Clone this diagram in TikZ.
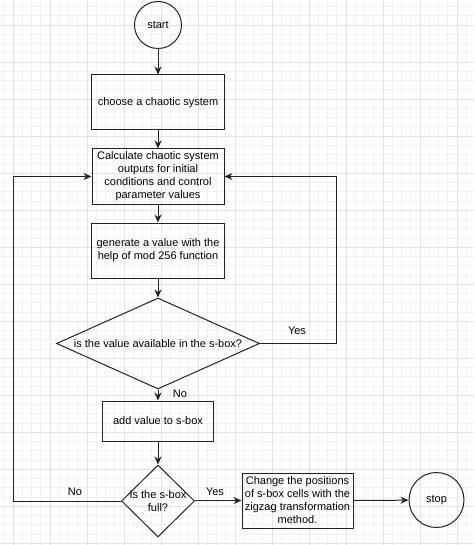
\documentclass[tikz,border=0pt]{standalone}
\usepackage{fontspec}
\setmainfont{Liberation Sans}
\usepackage{xcolor}
\usetikzlibrary{positioning,shapes,calc}
\usetikzlibrary{arrows.meta}
\definecolor{lineGray}{HTML}{222222}
\definecolor{gridMinor}{HTML}{F1F1F1}
\definecolor{gridMajor}{HTML}{E3E3E3}
\tikzstyle{nodeTerm}  =[circle, draw=lineGray, line width=1pt, inner sep=0pt]
\tikzstyle{nodeStep}  =[rectangle, draw=lineGray, line width=1pt, align=center, inner sep=1pt]
\tikzstyle{nodeAsk}   =[diamond, draw=lineGray, line width=1pt, align=center, inner sep=0pt]
\tikzstyle{flow}      =[draw=lineGray, line width=1pt, -{Stealth[length=8pt,width=7pt]}]
\tikzstyle{lbl}       =[inner sep=0pt]

\begin{document}
\begin{tikzpicture}[x=1pt, y=-1pt, font=\fontsize{11}{13}\selectfont]
        \useasboundingbox (0,0) rectangle (474,545);
        % grid
        \foreach \i in {0,...,51} {
            \draw[gridMinor, line width=0.5pt] (3.55+9.25*\i,0) -- (3.55+9.25*\i,545);
        }
        \foreach \i in {0,...,59} {
            \draw[gridMinor, line width=0.5pt] (0,6.5+9.25*\i) -- (474,6.5+9.25*\i);
        }
        \foreach \i in {0,...,12} {
            \draw[gridMajor, line width=0.6pt] (12.8+37*\i,0) -- (12.8+37*\i,545);
        }
        \foreach \i in {0,...,14} {
            \draw[gridMajor, line width=0.6pt] (0,25+37*\i) -- (474,25+37*\i);
        }
        % blocks
        \node[nodeTerm, minimum size=47pt] (start) at (158,25) {start};
        \node[nodeStep, minimum width=133pt, minimum height=55pt] (choose) at (158,102.5) {choose a chaotic system};
        \node[nodeStep, minimum width=132pt, minimum height=55pt] (calc) at (158,176.5)
            {Calculate chaotic system\\outputs for initial\\conditions and control\\parameter values};
        \node[nodeStep, minimum width=133pt, minimum height=55pt] (gen) at (158,250.5)
            {generate a value with the\\help of mod 256 function};
        \node[nodeAsk, aspect=2.23, minimum width=203pt, minimum height=91pt] (avail) at (158,343.5)
            {is the value available in the s-box?};
        \node[nodeStep, minimum width=111pt, minimum height=40pt] (add) at (158,421) {add value to s-box};
        \node[nodeAsk, aspect=1, minimum width=73pt, minimum height=72pt, inner sep=-6pt] (full) at (158,501)
            {Is the s-box\\full?};
        \node[nodeStep, minimum width=111pt, minimum height=55pt] (zigzag) at (297.5,500.5)
            {Change the positions\\of s-box cells with the\\zigzag transformation\\method.};
        \node[nodeTerm, minimum size=55pt] (stop) at (436.5,500) {stop};
        % connectors
        \draw[flow] (start) -- (choose);
        \draw[flow] (choose) -- (calc);
        \draw[flow] (calc) -- (gen);
        \draw[flow] (gen) -- (avail);
        \draw[flow] (avail) -- (add);
        \draw[flow] (add) -- (full);
        \draw[flow] (full.east |- zigzag.west) -- (zigzag.west);
        \draw[flow] (zigzag.east) -- (stop);
        \draw[flow] (avail.east) -- ++(76,0) |- (calc.east);
        \draw[flow] (full.west) -- ++(-108,0) |- (calc.west);
        % labels
        \node[lbl] (yes1) at (297,331) {Yes};
        \node[lbl] (no1) at (180,394) {No};
        \node[lbl] (no2) at (75,492) {No};
        \node[lbl] (yes2) at (215,492) {Yes};
\end{tikzpicture}
\end{document}
